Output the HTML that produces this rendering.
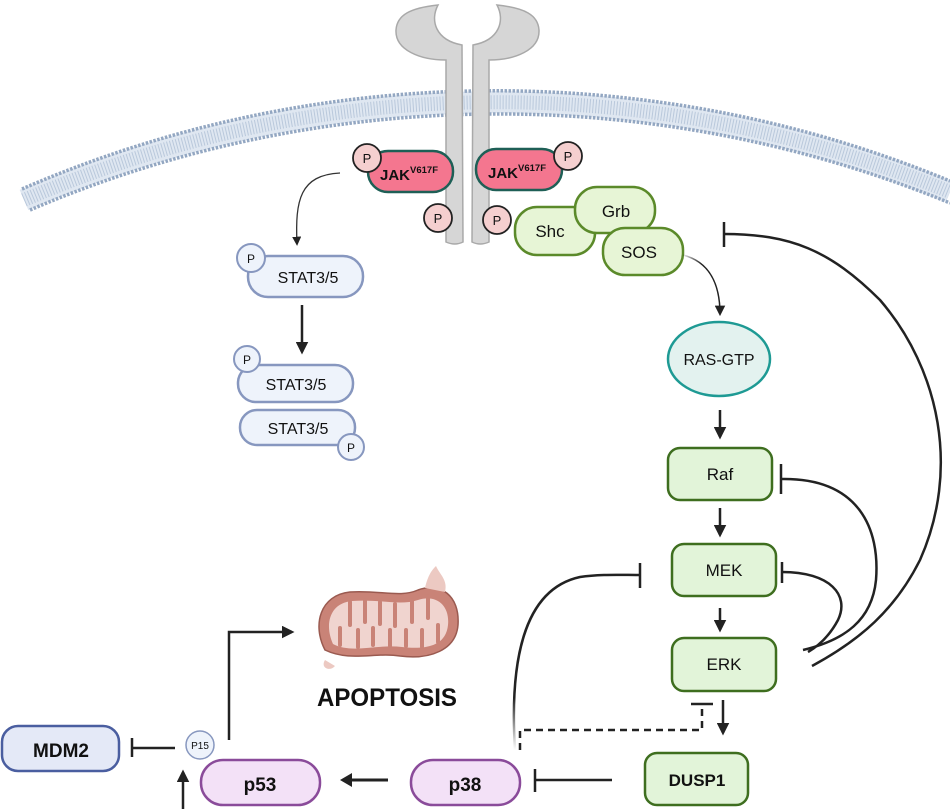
<!DOCTYPE html>
<html><head><meta charset="utf-8"><style>
html,body{margin:0;padding:0;background:#fff;}
svg{display:block;font-family:"Liberation Sans",sans-serif;}
</style></head><body>
<svg width="950" height="809" viewBox="0 0 950 809" xmlns="http://www.w3.org/2000/svg">
<defs>
<marker id="ah" viewBox="0 0 10 10" refX="8" refY="5" markerWidth="5" markerHeight="5" orient="auto-start-reverse"><path d="M0,0 L10,5 L0,10 z" fill="#222"/></marker>
<marker id="ahs" viewBox="0 0 10 10" refX="8" refY="5" markerWidth="7" markerHeight="7" orient="auto"><path d="M0,0 L10,5 L0,10 z" fill="#222"/></marker>
<linearGradient id="fade" x1="0" y1="1" x2="0" y2="0"><stop offset="0" stop-color="#222" stop-opacity="0"/><stop offset="0.3" stop-color="#222" stop-opacity="1"/></linearGradient>
<linearGradient id="fadeh" x1="0" y1="0" x2="1" y2="0"><stop offset="0" stop-color="#222" stop-opacity="0.1"/><stop offset="0.5" stop-color="#222"/></linearGradient>
</defs>

<!-- membrane -->
<g fill="none">
<path d="M24,200 A1190,1190 0 0 1 950,192" stroke="#dfe7f1" stroke-width="22"/>
<path d="M22,189 A1190,1190 0 0 1 950,181" stroke="#93a7c2" stroke-width="3.5" stroke-dasharray="2.5 1.5"/>
<path d="M30,210 A1190,1190 0 0 1 950,203" stroke="#93a7c2" stroke-width="3.5" stroke-dasharray="2.5 1.5"/>
<path d="M24,200 A1190,1190 0 0 1 950,192" stroke="#b9c8db" stroke-width="14" stroke-dasharray="1 2"/>
</g>

<!-- receptor -->
<g fill="#d6d6d6" stroke="#a9a9a9" stroke-width="1.5">
<path d="M446,242 L446,60 C420,60 395,50 396,30 C397,15 410,8 438,5 C430,20 435,40 462,45 L463,242 Q455,246 446,242 Z"/>
<path d="M489,242 L489,60 C515,60 540,50 539,30 C538,15 525,8 497,5 C505,20 500,40 473,45 L472,242 Q480,246 489,242 Z"/>
</g>

<!-- JAK -->
<rect x="368" y="151" width="85" height="41" rx="20" fill="#f4768f" stroke="#1e5f56" stroke-width="2.5"/>
<rect x="476" y="149" width="86" height="41" rx="20" fill="#f4768f" stroke="#1e5f56" stroke-width="2.5"/>
<text x="380" y="180" font-size="15" font-weight="bold" fill="#111">JAK<tspan font-size="9.5" dy="-7">V617F</tspan></text>
<text x="488" y="178" font-size="15" font-weight="bold" fill="#111">JAK<tspan font-size="9.5" dy="-7">V617F</tspan></text>
<g fill="#f5cfcf" stroke="#222" stroke-width="1.8" font-size="12">
<circle cx="367" cy="158" r="14"/><circle cx="568" cy="156" r="14"/>
<circle cx="438" cy="218" r="14"/><circle cx="497" cy="220" r="14"/>
</g>
<g font-size="13" fill="#111" text-anchor="middle">
<text x="367" y="163">P</text><text x="568" y="161">P</text>
<text x="438" y="223">P</text><text x="497" y="225">P</text>
</g>

<!-- Shc Grb SOS -->
<g fill="#e7f5d6" stroke="#5b8a2a" stroke-width="2.5">
<rect x="515" y="207" width="80" height="48" rx="22"/>
<rect x="575" y="187" width="80" height="46" rx="22"/>
<rect x="603" y="228" width="80" height="47" rx="22"/>
</g>
<g font-size="17" fill="#111" text-anchor="middle">
<text x="550" y="237">Shc</text><text x="616" y="217">Grb</text><text x="639" y="258">SOS</text>
</g>

<!-- JAK -> STAT arrow -->
<path d="M340,173 C300,175 295,200 297,244" fill="none" stroke="#333" stroke-width="1.3" marker-end="url(#ahs)"/>

<!-- STAT -->
<g fill="#eef3fb" stroke="#8797bf" stroke-width="2.5">
<rect x="248" y="256" width="115" height="41" rx="20"/>
<rect x="238" y="365" width="115" height="37" rx="18"/>
<rect x="240" y="410" width="115" height="35" rx="17"/>
<circle cx="251" cy="258" r="14" stroke-width="2"/>
<circle cx="247" cy="359" r="13" stroke-width="2"/>
<circle cx="351" cy="447" r="13" stroke-width="2"/>
</g>
<g font-size="16" fill="#111" text-anchor="middle">
<text x="308" y="283">STAT3/5</text><text x="296" y="390">STAT3/5</text><text x="298" y="434">STAT3/5</text>
</g>
<g font-size="12" fill="#111" text-anchor="middle">
<text x="251" y="263">P</text><text x="247" y="364">P</text><text x="351" y="452">P</text>
</g>
<line x1="302" y1="305" x2="302" y2="352" stroke="#222" stroke-width="2.5" marker-end="url(#ah)"/>

<!-- SOS -> RAS -->
<path d="M683,255 C710,262 720,285 720,314" fill="none" stroke="url(#fadeh)" stroke-width="1.5" marker-end="url(#ahs)"/>

<!-- RAS-GTP -->
<ellipse cx="719" cy="359" rx="51" ry="37" fill="#e3f2ef" stroke="#1e9a94" stroke-width="2.5"/>
<text x="719" y="365" font-size="16" fill="#111" text-anchor="middle">RAS-GTP</text>

<!-- MAPK boxes -->
<g fill="#e2f4d9" stroke="#3e6e1f" stroke-width="2.5">
<rect x="668" y="448" width="104" height="52" rx="12"/>
<rect x="672" y="544" width="104" height="52" rx="12"/>
<rect x="672" y="638" width="104" height="53" rx="12"/>
<rect x="645" y="753" width="103" height="52" rx="12"/>
</g>
<g font-size="17" fill="#111" text-anchor="middle">
<text x="720" y="480">Raf</text><text x="724" y="576">MEK</text><text x="724" y="670">ERK</text>
<text x="697" y="786" font-weight="bold">DUSP1</text>
</g>
<g stroke="#222" stroke-width="2.5" marker-end="url(#ah)">
<line x1="720" y1="410" x2="720" y2="437"/>
<line x1="720" y1="508" x2="720" y2="535"/>
<line x1="720" y1="608" x2="720" y2="630"/>
<line x1="723" y1="700" x2="723" y2="733"/>
</g>

<!-- feedback inhibition -->
<g fill="none" stroke="#222" stroke-width="2.5">
<path d="M782,479 C860,478 880,530 876,580 C872,620 845,640 803,650"/>
<line x1="781" y1="464" x2="781" y2="494"/>
<path d="M782,572 C830,572 850,595 838,620 C830,635 820,645 808,652"/>
<line x1="782" y1="562" x2="782" y2="583"/>
<path d="M724,234 C790,234 830,250 880,300 C940,370 960,470 920,560 C895,610 860,640 812,666"/>
<line x1="724" y1="222" x2="724" y2="247"/>
</g>

<!-- ERK dashed inhibition -->
<path d="M520,750 L520,730 L702,730 L702,706" fill="none" stroke="#222" stroke-width="2.5" stroke-dasharray="7 5"/>
<line x1="691" y1="704" x2="713" y2="704" stroke="#222" stroke-width="2.5"/>

<!-- p38 -> MEK -->
<path d="M515,750 C510,670 520,590 580,577 C600,574 620,575 640,575" fill="none" stroke="url(#fade)" stroke-width="2.5"/>
<line x1="640" y1="563" x2="640" y2="588" stroke="#222" stroke-width="2.5"/>

<!-- bottom nodes -->
<rect x="2" y="726" width="117" height="45" rx="16" fill="#e4e9f7" stroke="#4a5ea0" stroke-width="2.5"/>
<text x="61" y="757" font-size="19" font-weight="bold" fill="#111" text-anchor="middle">MDM2</text>
<rect x="201" y="760" width="119" height="45" rx="22" fill="#f3e1f7" stroke="#8a4b9a" stroke-width="2.5"/>
<text x="260" y="791" font-size="19" font-weight="bold" fill="#111" text-anchor="middle">p53</text>
<rect x="411" y="760" width="109" height="45" rx="22" fill="#f3e1f7" stroke="#8a4b9a" stroke-width="2.5"/>
<text x="465" y="791" font-size="19" font-weight="bold" fill="#111" text-anchor="middle">p38</text>
<circle cx="200" cy="745" r="14" fill="#eef3fb" stroke="#8797bf" stroke-width="1.5"/>
<text x="200" y="749" font-size="10" fill="#111" text-anchor="middle">P15</text>

<g stroke="#222" stroke-width="2.5" fill="none">
<line x1="132" y1="748" x2="175" y2="748"/><line x1="132" y1="738" x2="132" y2="757"/>
<line x1="612" y1="780" x2="535" y2="780"/><line x1="535" y1="769" x2="535" y2="792"/>
<line x1="183" y1="809" x2="183" y2="772" marker-end="url(#ah)"/>
<path d="M229,740 L229,632 L292,632" marker-end="url(#ah)"/>
</g>
<path d="M340,780 L352,773 L352,787 z" fill="#222"/>
<line x1="352" y1="780" x2="388" y2="780" stroke="#222" stroke-width="3"/>

<!-- mitochondrion -->
<g>
<path d="M325,650 C312,625 320,595 350,592 C380,590 400,598 418,590 C440,582 460,595 458,625 C456,650 430,660 400,656 C375,652 350,662 325,650 Z" fill="#c98377" stroke="#9a5a50" stroke-width="1.5"/>
<path d="M333,644 C324,624 330,603 352,601 C380,599 400,606 418,600 C436,594 450,605 448,625 C446,645 428,650 402,647 C376,644 352,654 333,644 Z" fill="#f0d4cf"/>
<g stroke="#c98377" stroke-width="4" stroke-linecap="round">
<line x1="350" y1="602" x2="350" y2="625"/><line x1="365" y1="600" x2="365" y2="622"/>
<line x1="380" y1="602" x2="380" y2="624"/><line x1="395" y1="604" x2="395" y2="626"/>
<line x1="412" y1="600" x2="412" y2="622"/><line x1="428" y1="596" x2="428" y2="618"/>
<line x1="340" y1="645" x2="340" y2="628"/><line x1="358" y1="647" x2="358" y2="630"/>
<line x1="373" y1="645" x2="373" y2="628"/><line x1="390" y1="646" x2="390" y2="630"/>
<line x1="406" y1="646" x2="406" y2="630"/><line x1="422" y1="647" x2="422" y2="630"/>
<line x1="438" y1="642" x2="438" y2="625"/>
</g>
<path d="M425,588 C428,575 432,570 436,566 C440,575 448,580 445,592 Z" fill="#ecc9c2"/>
<path d="M325,660 C320,668 330,672 335,666 Z" fill="#ecc9c2"/>
</g>
<text x="387" y="706" font-size="25" font-weight="bold" fill="#111" text-anchor="middle" textLength="140" lengthAdjust="spacingAndGlyphs">APOPTOSIS</text>
</svg>
</body></html>
